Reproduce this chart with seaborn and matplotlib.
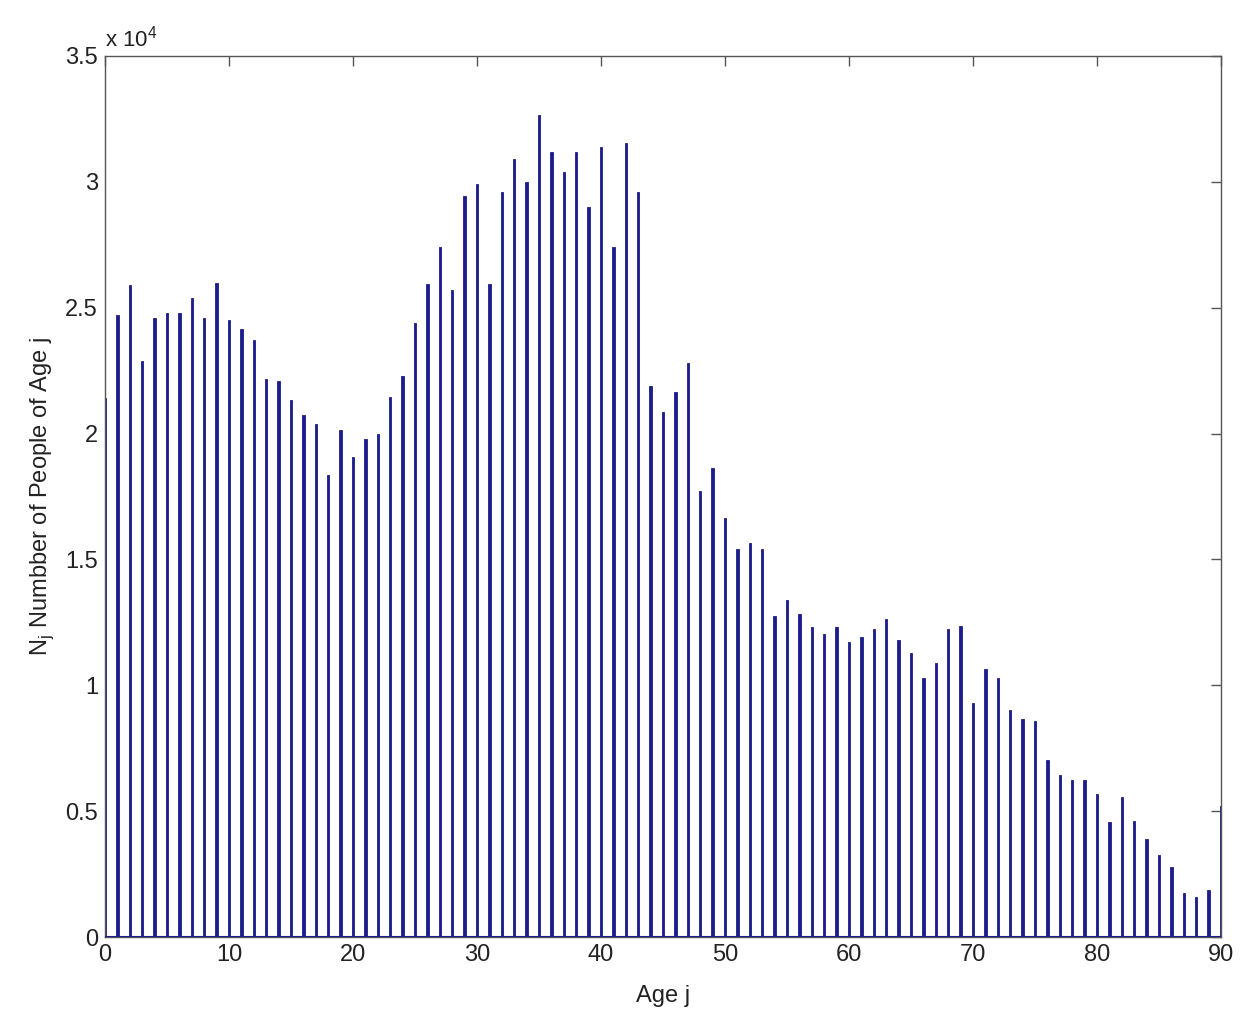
import matplotlib
matplotlib.use("Agg")
import matplotlib.pyplot as plt
import seaborn as sns
import numpy as np
import pandas as pd

ages = list(range(0, 91))
counts = [
    21400, 24700, 25900, 22900, 24600, 24800, 24800, 25400, 24600, 26000,
    24500, 24150, 23700, 22150, 22100, 21350, 20750, 20400, 18350, 20150,
    19050, 19800, 20000, 21450, 22300, 24400, 25950, 27400, 25700, 29450,
    29900, 25950, 29600, 30900, 30000, 32650, 31200, 30400, 31200, 29000,
    31400, 27400, 31550, 29600, 21900, 20850, 21650, 22800, 17700, 18650,
    16650, 15400, 15650, 15400, 12750, 13400, 12850, 12300, 12050, 12300,
    11700, 11900, 12250, 12650, 11800, 11300, 10300, 10900, 12250, 12350,
    9300, 10650, 10300, 9000, 8650, 8600, 7050, 6450, 6250, 6250,
    5700, 4550, 5550, 4600, 3900, 3250, 2800, 1750, 1600, 1850,
    5200,
]
ytick_vals = [0, 5000, 10000, 15000, 20000, 25000, 30000, 35000]
ytick_labels = ["0", "0.5", "1", "1.5", "2", "2.5", "3", "3.5"]
xtick_vals = [0, 10, 20, 30, 40, 50, 60, 70, 80, 90]

df = pd.DataFrame({"age": ages, "count": counts})

sns.set_style("white")
plt.rcParams["font.family"] = ["Liberation Sans", "DejaVu Sans"]

fig = plt.figure(figsize=(12.44, 10.18), dpi=100)
ax = fig.add_axes([105 / 1244, 81 / 1018, 1116 / 1244, 881 / 1018])

bar_color = "#1c1c8a"
sns.barplot(data=df, x="age", y="count", native_scale=True, width=0.2,
            color=bar_color, saturation=1, ax=ax, edgecolor=bar_color,
            linewidth=0.6)
ax.axhline(0, color=bar_color, lw=1.5, zorder=3)

ax.set_xlim(0, 90)
ax.set_ylim(0, 35000)
ax.set_xticks(xtick_vals)
ax.set_xticklabels([str(v) for v in xtick_vals])
ax.set_yticks(ytick_vals)
ax.set_yticklabels(ytick_labels)

for s in ax.spines.values():
    s.set_visible(True)
    s.set_color("#555555")
    s.set_linewidth(1.0)

ax.tick_params(axis="both", direction="in", length=7, width=1,
               color="#555555", labelsize=17, labelcolor="#222222",
               top=True, right=True, pad=5)

ax.set_xlabel("Age j", fontsize=17, color="#222222", labelpad=14)
ax.set_ylabel(r"N$_\mathregular{j}$ Numbber of People of Age j", fontsize=17,
              color="#222222", labelpad=7)

ax.text(0.0, 1.005, r"x 10$^\mathregular{4}$", transform=ax.transAxes,
        fontsize=16, color="#222222", ha="left", va="bottom")

fig.savefig("out.png", dpi=100)
